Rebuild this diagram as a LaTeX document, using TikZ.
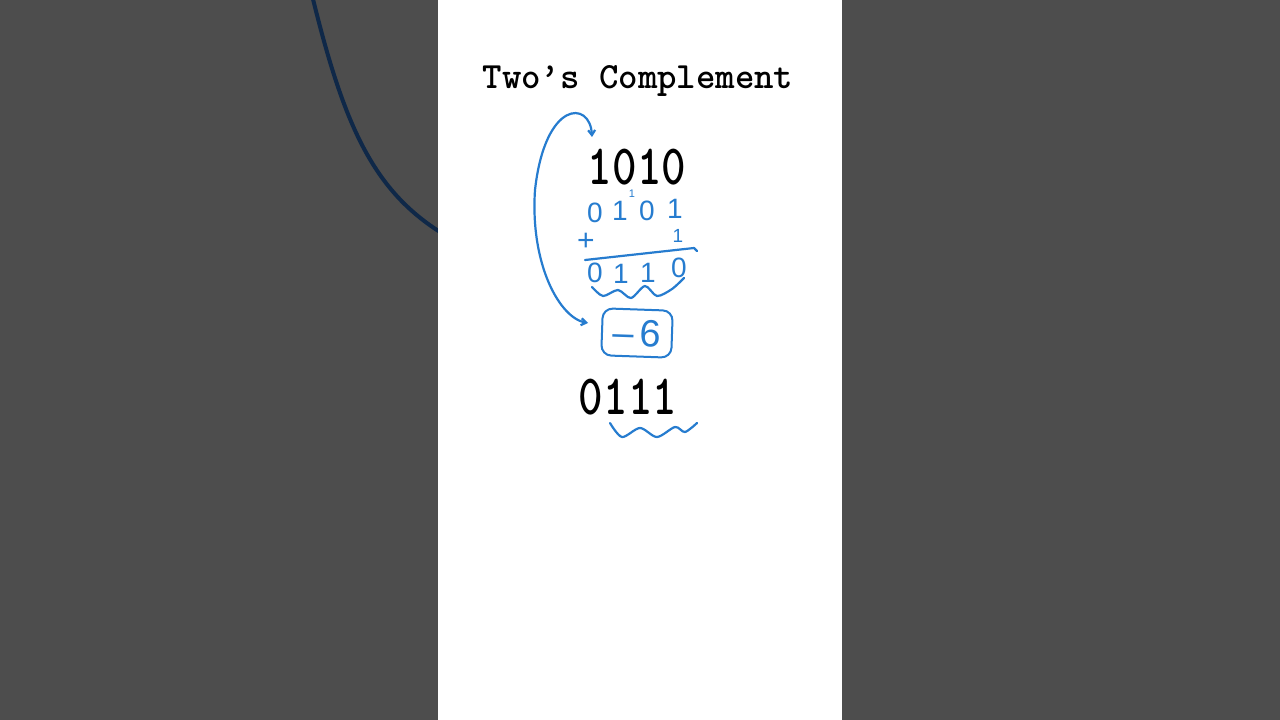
\documentclass[tikz,border=0pt]{standalone}
\usepackage{fontspec}
\newfontfamily\handfont{Liberation Sans}
\usetikzlibrary{arrows.meta}
\definecolor{slate}{RGB}{77,77,77}
\definecolor{navy}{RGB}{15,40,72}
\definecolor{ink}{RGB}{38,124,207}

\begin{document}
\begin{tikzpicture}[x=1pt, y=-1pt,
    hand/.style={ink, font=\handfont\fontsize{28}{28}\selectfont, inner sep=0},
    pen/.style={ink, line width=2.2pt, line cap=round, line join=round},
    bignum/.style={font=\ttfamily\bfseries\fontsize{57}{57}\selectfont, xscale=0.82, anchor=base, inner sep=0},
    >={Straight Barb[length=5pt,width=7pt]}]
    \useasboundingbox (0,0) rectangle (1280,720);
    \clip (0,0) rectangle (1280,720);
    \fill[slate] (0,0) rectangle (1280,720);
    \draw[navy, line width=4pt] (312,-5) .. controls (345,130) and (375,195) .. (450,238);
    \fill[white] (438,0) rectangle (842,720);
    \node[font=\ttfamily\bfseries\fontsize{37}{37}\selectfont, anchor=base, inner sep=0] (title) at (638,88) {Two’s Complement};
    \node[bignum] (num) at (637,184) {1010};
    \node[bignum] (low) at (628,414) {0111};
    % inverted bits
    \node[hand] (a0) at (595,213) {0};
    \node[hand] (a1) at (620,211) {1};
    \node[hand] (a2) at (647,211) {0};
    \node[hand] (a3) at (675,209) {1};
    \node[hand, font=\handfont\fontsize{11}{11}\selectfont] (carry) at (632,194) {1};
    \node[hand, font=\handfont\fontsize{30}{30}\selectfont] (plus) at (586,242) {+};
    \node[hand, font=\handfont\fontsize{19}{19}\selectfont] (b3) at (678,236) {1};
    \draw[pen] (585,260) -- (694,248) -- (697,251);
    % sum
    \node[hand] (s0) at (595,273) {0};
    \node[hand] (s1) at (621,274) {1};
    \node[hand] (s2) at (648,273) {1};
    \node[hand] (s3) at (679,268) {0};
    \draw[pen] plot[smooth] coordinates {(592,287) (603,296) (618,290) (631,298) (645,286) (657,296) (672,289) (684,278)};
    \node[hand, draw, line width=2pt, rounded corners=10pt, minimum width=70, minimum height=47, font=\handfont\fontsize{38}{38}\selectfont, rotate=-2] (neg) at (637,333) {–\kern5pt6};
    \coordinate (tip) at (592,137);
    \coordinate (tail) at (588,323);
    \draw[pen, <->] (tail) .. controls (560,318) and (530,265) .. (535,190) .. controls (545,100) and (590,100) .. (tip);
    \draw[pen] plot[smooth] coordinates {(610,423) (622,437) (640,428) (657,437) (675,427) (685,432) (697,423)};
\end{tikzpicture}
\end{document}
